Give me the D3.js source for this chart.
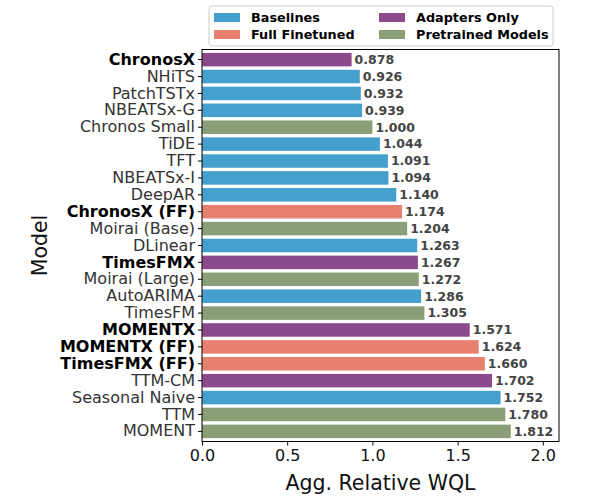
<!DOCTYPE html>
<html>
<head>
<meta charset="utf-8">
<script src="https://cdn.jsdelivr.net/npm/d3@7"></script>
<style>
  body { margin: 0; background: #fff; }
  svg text { font-family: "DejaVu Sans", sans-serif; }
</style>
</head>
<body>
<svg width="608" height="500"></svg>
<script>
// data
var models = ["ChronosX", "NHiTS", "PatchTSTx", "NBEATSx-G", "Chronos Small", "TiDE", "TFT",
  "NBEATSx-I", "DeepAR", "ChronosX (FF)", "Moirai (Base)", "DLinear", "TimesFMX", "Moirai (Large)",
  "AutoARIMA", "TimesFM", "MOMENTX", "MOMENTX (FF)", "TimesFMX (FF)", "TTM-CM", "Seasonal Naive",
  "TTM", "MOMENT"];
var wql = [0.878, 0.926, 0.932, 0.939, 1.000, 1.044, 1.091, 1.094, 1.140, 1.174, 1.204, 1.263,
  1.267, 1.272, 1.286, 1.305, 1.571, 1.624, 1.660, 1.702, 1.752, 1.780, 1.812];
var groups = ["Adapters Only", "Baselines", "Baselines", "Baselines", "Pretrained Models", "Baselines",
  "Baselines", "Baselines", "Baselines", "Full Finetuned", "Pretrained Models", "Baselines",
  "Adapters Only", "Pretrained Models", "Baselines", "Pretrained Models", "Adapters Only",
  "Full Finetuned", "Full Finetuned", "Adapters Only", "Baselines", "Pretrained Models", "Pretrained Models"];
var boldModels = ["ChronosX", "ChronosX (FF)", "TimesFMX", "MOMENTX", "MOMENTX (FF)", "TimesFMX (FF)"];
var legendOrder = ["Baselines", "Full Finetuned", "Adapters Only", "Pretrained Models"];
var xTicks = [0.0, 0.5, 1.0, 1.5, 2.0];

var svg = d3.select("svg"),
    margin = {top: 49.5, right: 49, bottom: 58.5, left: 202},
    width = 608 - margin.left - margin.right,
    height = 500 - margin.top - margin.bottom;

var x = d3.scaleLinear().domain([0, 2.095]).range([0, width]),
    y = d3.scaleBand().domain(models).range([0, height]).padding(0.2),
    color = d3.scaleOrdinal().domain(legendOrder)
      .range(["#45a0cd", "#e8806f", "#8c4a8c", "#8a9e78"]);

var g = svg.append("g")
    .attr("transform", "translate(" + margin.left + "," + margin.top + ")");

var data = models.map(function(m, i) { return {model: m, value: wql[i], group: groups[i]}; });

g.selectAll(".bar")
  .data(data)
  .enter().append("rect")
    .attr("class", "bar")
    .attr("x", 0)
    .attr("y", function(d) { return y(d.model); })
    .attr("width", function(d) { return x(d.value); })
    .attr("height", y.bandwidth())
    .attr("fill", function(d) { return color(d.group); });

g.selectAll(".val")
  .data(data)
  .enter().append("text")
    .attr("class", "val")
    .attr("x", function(d) { return x(d.value) + 3; })
    .attr("y", function(d) { return y(d.model) + y.bandwidth() / 2; })
    .attr("dy", "0.35em")
    .style("font-size", "12.5px")
    .style("font-weight", "bold")
    .attr("fill", "#444")
    .text(function(d) { return d.value.toFixed(3); });

// axes
var yAxis = g.append("g")
    .call(d3.axisLeft(y).tickSize(4).tickPadding(3));
yAxis.select(".domain").remove();
yAxis.selectAll("text")
    .style("font-size", "16px")
    .style("font-weight", function(d) { return boldModels.indexOf(d) >= 0 ? "bold" : "normal"; })
    .attr("fill", function(d) { return boldModels.indexOf(d) >= 0 ? "#000" : "#333"; });

var xAxis = g.append("g")
    .attr("transform", "translate(0," + height + ")")
    .call(d3.axisBottom(x).tickValues(xTicks).tickFormat(d3.format(".1f")).tickSize(4).tickPadding(4));
xAxis.select(".domain").remove();
xAxis.selectAll("text").style("font-size", "16px").attr("fill", "#111");

g.append("rect")
    .attr("width", width).attr("height", height)
    .attr("fill", "none").attr("stroke", "#000").attr("stroke-width", 1);

svg.append("text")
    .attr("x", margin.left + width / 2)
    .attr("y", 490)
    .attr("text-anchor", "middle")
    .style("font-size", "20.5px")
    .attr("fill", "#111")
    .text("Agg. Relative WQL");

svg.append("text")
    .attr("transform", "translate(47," + (margin.top + height / 2) + ") rotate(-90)")
    .attr("text-anchor", "middle")
    .style("font-size", "20.5px")
    .attr("fill", "#111")
    .text("Model");

// legend
var lg = svg.append("g").attr("transform", "translate(209,6)");
lg.append("rect")
    .attr("width", 344).attr("height", 40).attr("rx", 3)
    .attr("fill", "#fff").attr("fill-opacity", 0.85)
    .attr("stroke", "#ccc");
var items = lg.selectAll(".li")
  .data(legendOrder)
  .enter().append("g")
    .attr("transform", function(d, i) {
      return "translate(" + (i < 2 ? 5 : 170) + "," + (i % 2 === 0 ? 7 : 24) + ")";
    });
items.append("rect")
    .attr("width", 26).attr("height", 9)
    .attr("fill", function(d) { return color(d); });
items.append("text")
    .attr("x", 37).attr("y", 4.5).attr("dy", "0.35em")
    .style("font-size", "12.8px").style("font-weight", "bold")
    .text(function(d) { return d; });
</script>
</body>
</html>
